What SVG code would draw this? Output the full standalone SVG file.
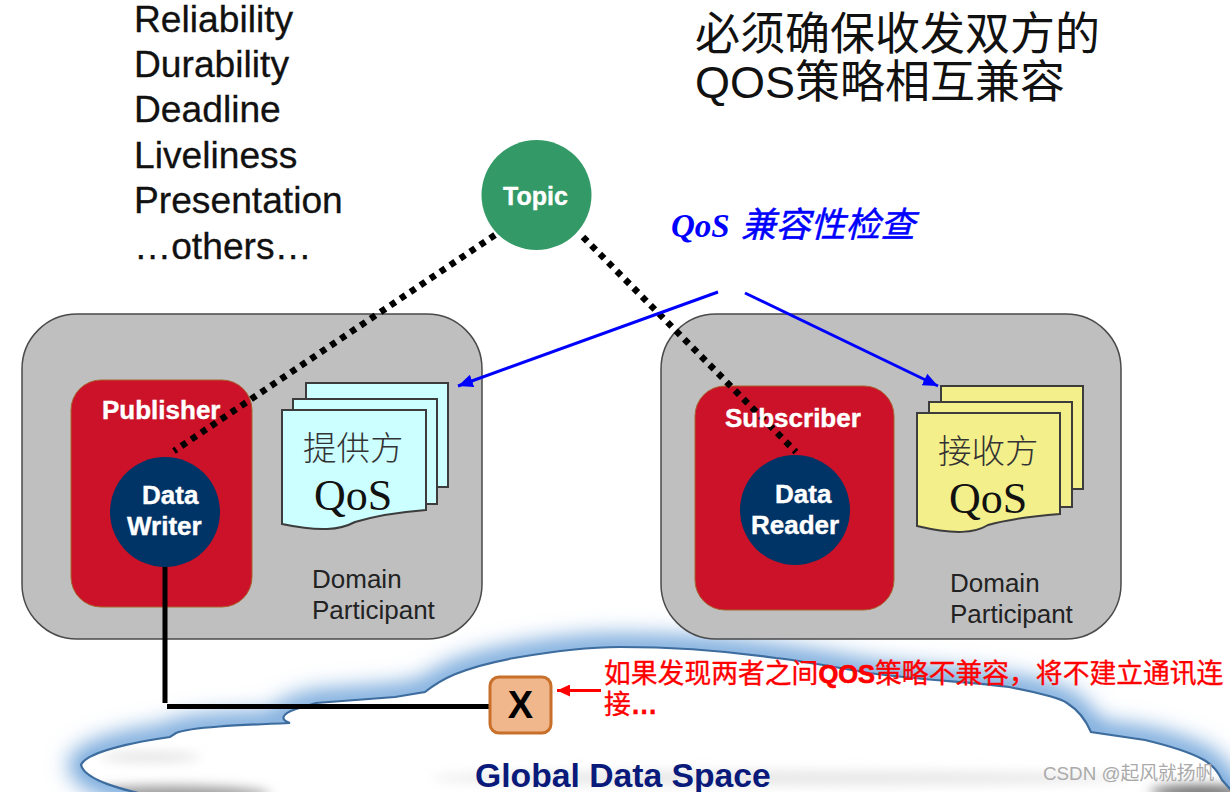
<svg xmlns="http://www.w3.org/2000/svg" width="1230" height="792" viewBox="0 0 1230 792">
<style>
.list{font:37.200px "Liberation Sans",Arial,sans-serif;fill:#111;stroke:#111;stroke-width:.3}
.head{font:45px "Liberation Sans","Noto Sans CJK SC",sans-serif;fill:#111}
.w{font:bold 26px "Liberation Sans",Arial,sans-serif;fill:#fff;stroke:#fff;stroke-width:.4}
.dp{font:26px "Liberation Sans",Arial,sans-serif;fill:#222}
.panel{fill:#bfbfbf;stroke:#4a4a4a;stroke-width:1.5}
.box{fill:#cc1229;stroke:#a8642c;stroke-width:1}
.disc{fill:#003366}
.pg{stroke:#3c3c3c;stroke-width:2}
.cy{fill:#ccffff}.ye{fill:#f3ef8b}
.cn{font:33.500px "Noto Sans CJK SC",sans-serif;fill:#333;font-weight:300}
.q{font:44px "Liberation Serif",serif;fill:#111}
.red{font:26.800px "Noto Sans CJK SC","Liberation Sans",sans-serif;fill:#f00;stroke:#f00;stroke-width:.35}
.dot{fill:none;stroke:#000;stroke-width:6.500;stroke-dasharray:6 6}
.sol{fill:none;stroke:#000;stroke-width:5}
.bl{fill:none;stroke:#00f;stroke-width:3;marker-end:url(#ab)}
</style>
<defs>
<marker id="ab" markerUnits="userSpaceOnUse" markerWidth="16" markerHeight="14" refX="15" refY="7" orient="auto"><path d="M0 0.500L15 7L0 13.500z" fill="#00f"/></marker>
<marker id="ar" markerUnits="userSpaceOnUse" markerWidth="14" markerHeight="12" refX="13" refY="6" orient="auto"><path d="M0 0L13 6L0 12z" fill="#f00"/></marker>
<filter id="b8" x="-10%" y="-40%" width="120%" height="180%"><feGaussianBlur stdDeviation="11"/></filter>
<filter id="b5" x="-30%" y="-150%" width="160%" height="400%"><feGaussianBlur stdDeviation="6"/></filter>
<path id="cl" d="M81 765C85 755 115 745 170 737L176 733C190 727 240 725 290 723C280 720 281 714 296 709L316 703L395 697L425 692C440 680 460 668 514 658C560 650 590 647 620 647C670 647 720 650 776 658C810 662 840 668 869 673C920 680 970 682 1009 687C1040 693 1060 698 1067 703C1078 710 1085 718 1091 732L1145 740C1170 746 1190 752 1204 760C1214 766 1218 772 1222 780L1240 800L170 800C120 790 85 780 81 765Z"/>
<clipPath id="cc"><use href="#cl"/></clipPath>
</defs>
<rect width="1230" height="792" fill="#fff"/>
<g id="cloud">
<use href="#cl" fill="none" stroke="#6aa0d8" stroke-width="24" filter="url(#b8)"/>
<use href="#cl" fill="#fff"/>
<g clip-path="url(#cc)">
<ellipse cx="170" cy="795" rx="100" ry="9" fill="#999" filter="url(#b5)"/>
<ellipse cx="150" cy="757" rx="50" ry="4" fill="#ddd" filter="url(#b5)"/>
<ellipse cx="780" cy="778" rx="350" ry="7" fill="#e6e6e6" filter="url(#b5)"/>
<ellipse cx="1200" cy="792" rx="50" ry="6" fill="#555" filter="url(#b5)"/>
</g>
<use href="#cl" fill="none" stroke="#3d6c9e" stroke-width="2.2"/>
</g>
<g id="participant-left"><rect class="panel" x="22" y="314" width="460" height="325" rx="55"/>
<text class="dp" x="312" y="588">Domain</text><text class="dp" x="312" y="619">Participant</text></g>
<g id="participant-right"><rect class="panel" x="661" y="314" width="460" height="325" rx="55"/>
<text class="dp" x="950" y="592">Domain</text><text class="dp" x="950" y="623">Participant</text></g>
<g id="publisher-box"><rect class="box" x="71" y="380" width="181" height="227" rx="30"/></g>
<g id="subscriber-box"><rect class="box" x="695" y="386" width="199" height="224" rx="30"/></g>
<g id="connectors">
<path class="dot" d="M495 235L174 451"/>
<path class="dot" d="M583 237L796 452"/>
<path class="sol" d="M165 566V703"/>
<path class="sol" d="M167 706.500H490"/>
<path class="bl" d="M718 292L458 386"/>
<path class="bl" d="M745 293L938 386"/>
<path d="M601 690.500H557" fill="none" stroke="#f00" stroke-width="3" marker-end="url(#ar)"/>
</g>
<g id="publisher"><text class="w" x="102" y="419">Publisher</text></g>
<g id="subscriber"><text class="w" x="725" y="427">Subscriber</text></g>
<g id="writer"><circle class="disc" cx="165" cy="512" r="55"/><text class="w" x="142" y="504">Data</text><text class="w" x="127" y="535">Writer</text></g>
<g id="reader"><circle class="disc" cx="795" cy="510" r="55"/><text class="w" x="775" y="503">Data</text><text class="w" x="751" y="534">Reader</text></g>
<g id="topic"><circle cx="536.500" cy="195" r="55" fill="#339966"/><text x="503" y="205" style="font:bold 25px 'Liberation Sans',Arial,sans-serif;fill:#fff;stroke:#fff;stroke-width:.4">Topic</text></g>
<g id="qos-offer">
<rect class="pg cy" x="306" y="383" width="142" height="104"/>
<rect class="pg cy" x="293" y="399" width="144" height="105"/>
<path class="pg cy" d="M282 410H426V510C400 512 375 516 355 522C340 530 320 532 282 524Z"/>
<text class="cn" x="303" y="460">提供方</text><text class="q" x="314" y="510">QoS</text></g>
<g id="qos-request">
<rect class="pg ye" x="941" y="386" width="142" height="103"/>
<rect class="pg ye" x="929" y="402" width="143" height="105"/>
<path class="pg ye" d="M917 413H1060V514C1035 516 1010 519 988 525C975 533 955 535 917 526Z"/>
<text class="cn" x="938" y="463">接收方</text><text class="q" x="949" y="513">QoS</text></g>
<g id="x-box"><rect x="490" y="677" width="61" height="56" rx="9" fill="#f0b68c" stroke="#c8702a" stroke-width="3"/><text x="520.500" y="718" text-anchor="middle" style="font:bold 38px 'Liberation Sans',Arial,sans-serif;fill:#000">X</text></g>
<g id="qos-list">
<text class="list" x="134" y="32">Reliability</text>
<text class="list" x="134" y="77">Durability</text>
<text class="list" x="134" y="122">Deadline</text>
<text class="list" x="134" y="168">Liveliness</text>
<text class="list" x="134" y="213">Presentation</text>
<text class="list" x="134" y="259">…others…</text>
</g>
<g id="heading">
<text class="head" x="695" y="50">必须确保收发双方的</text>
<text class="head" x="695" y="98">QOS策略相互兼容</text>
</g>
<text x="671" y="237" style="font:italic bold 33px 'Liberation Serif','Noto Sans CJK SC',serif;fill:#0000ff">QoS<tspan x="741" font-size="34.800" font-weight="400" stroke="#00f" stroke-width=".5">兼容性检查</tspan></text>
<text class="red" x="604" y="683">如果发现两者之间<tspan font-family="Liberation Sans" font-size="25.500" font-weight="bold" stroke-width=".7">QOS</tspan>策略不兼容&#xFF0C;将不建立通讯连</text>
<text class="red" x="604" y="714">接<tspan font-family="Liberation Sans" font-weight="bold">…</tspan></text>
<text x="475" y="787" style="font:bold 33.700px 'Liberation Sans',Arial,sans-serif;fill:#0a1a7a">Global Data Space</text>
<text x="1043" y="780" style="font:18.800px 'Liberation Sans','Noto Sans CJK SC',sans-serif;fill:#aaa">CSDN @起风就扬帆</text>
</svg>
